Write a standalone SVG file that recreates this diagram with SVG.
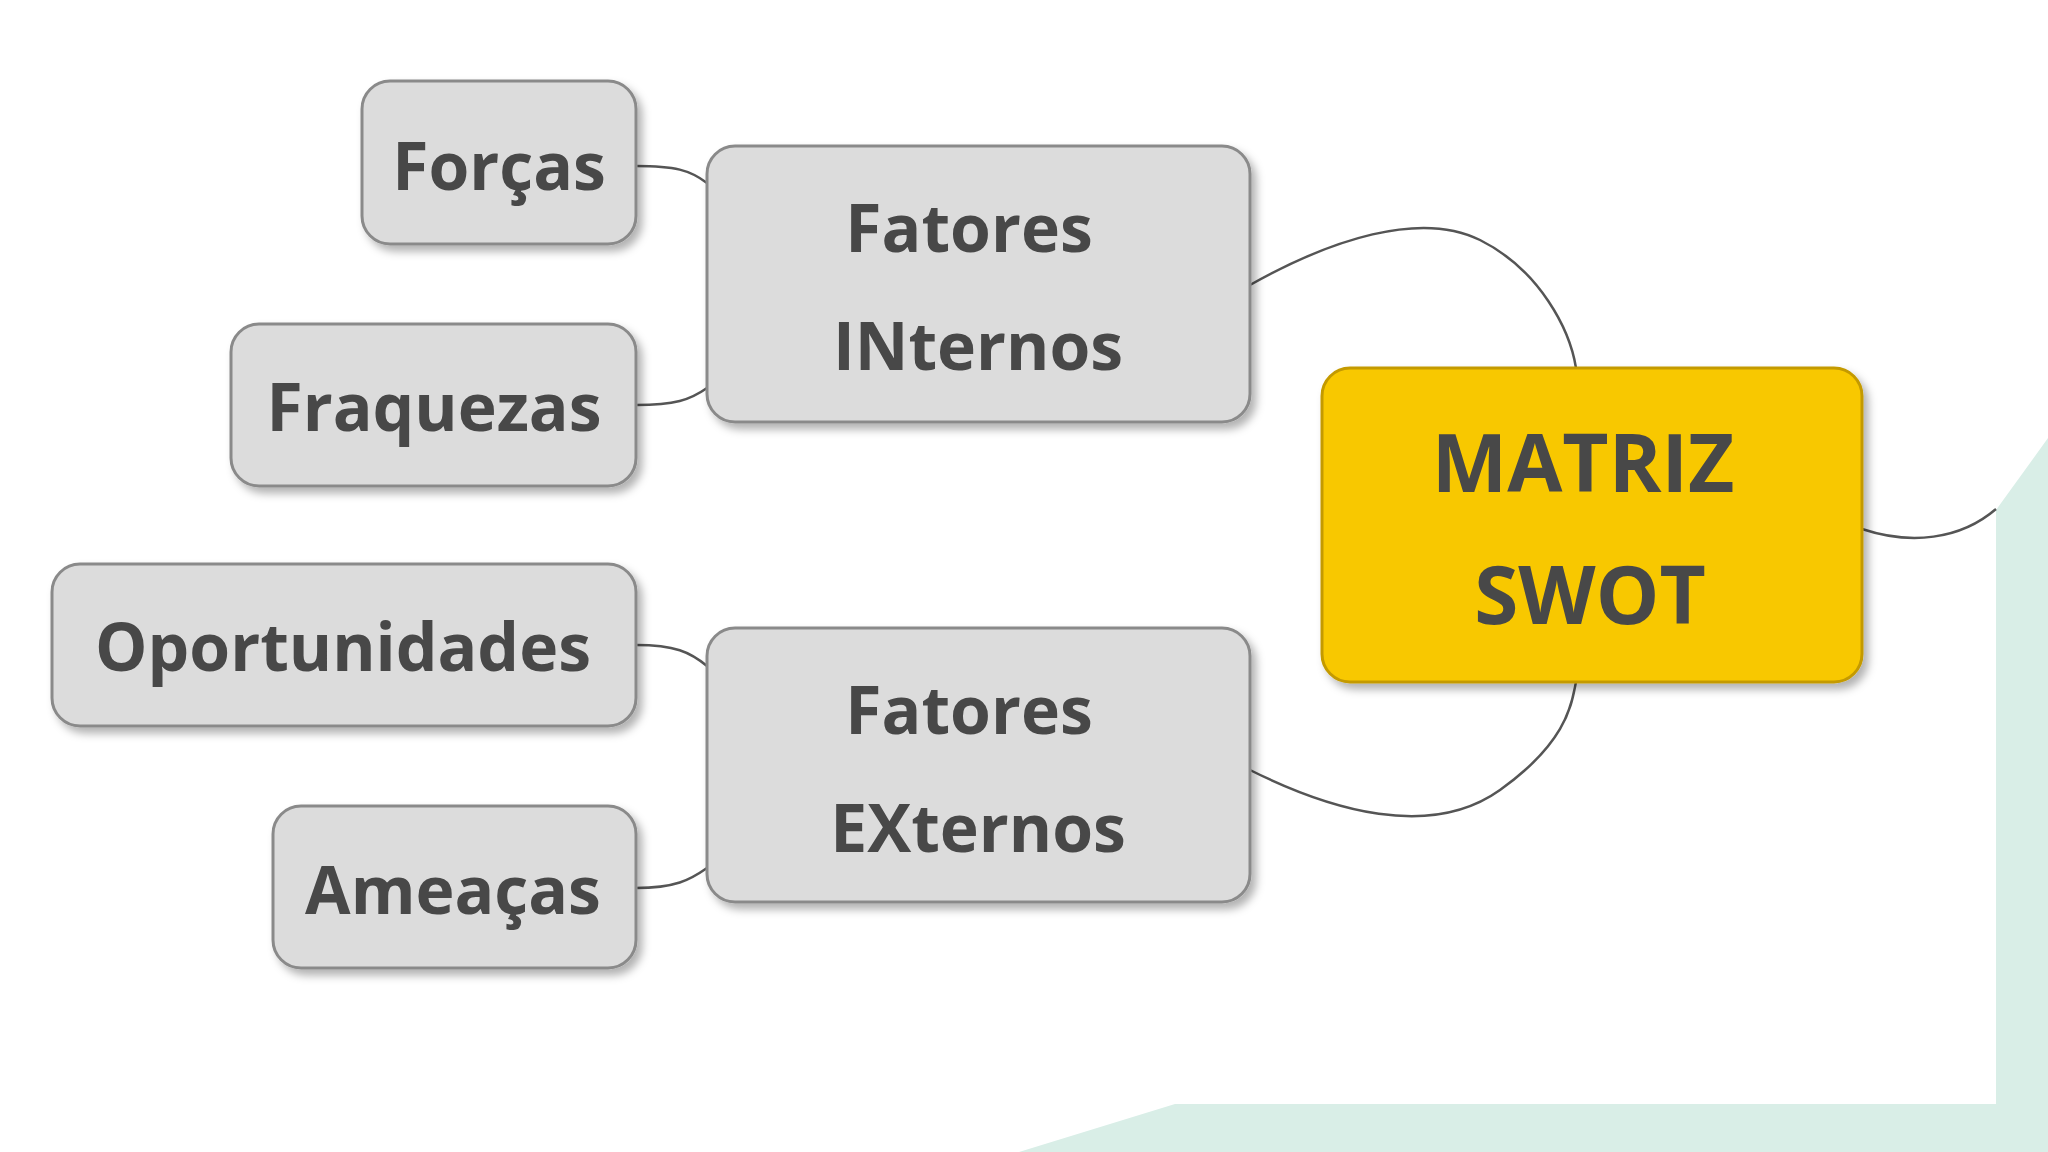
<svg xmlns="http://www.w3.org/2000/svg" width="2048" height="1152" viewBox="0 0 2048 1152">
<defs>
<filter id="sh" x="-10%" y="-10%" width="130%" height="130%"><feDropShadow dx="5" dy="6" stdDeviation="4" flood-color="#000" flood-opacity="0.3"/></filter>
<style>
.n{fill:#dcdcdc;stroke:#8a8a8a;stroke-width:3;filter:url(#sh)}
.y{fill:#f8c800;stroke:#c49a00;stroke-width:3;filter:url(#sh)}
.t{font-family:"Open Sans",sans-serif;font-weight:bold;font-size:66px;fill:#484848;text-anchor:middle}
.b{font-size:80px}
.c{fill:none;stroke:#555;stroke-width:2.5}
</style>
</defs>
<rect width="2048" height="1152" fill="#fff"/>
<polygon points="2048,438 1996,510 1996,1104 1175,1104 1019,1152 2048,1152" fill="#d9eee7"/>
<g id="connectors">
<path class="c" d="M1250,285 C1330,240 1420,210 1480,240 S1570,330 1576,368"/>
<path class="c" d="M1250,770 C1330,810 1430,840 1500,790 S1572,700 1576,682"/>
<path class="c" d="M1862,529 C1910,545 1960,540 1996,509"/>
<path class="c" d="M636,166 C675,166 690,170 707,183"/>
<path class="c" d="M636,405 C675,405 690,400 707,388"/>
<path class="c" d="M636,645 C675,645 690,652 707,666"/>
<path class="c" d="M636,888 C675,888 690,880 707,868"/>
</g>
<g id="forcas"><rect class="n" x="362" y="81" width="274" height="163" rx="28"/><text class="t" x="499" y="190">Forças</text></g>
<g id="fraquezas"><rect class="n" x="231" y="324" width="405" height="162" rx="28"/><text class="t" x="434" y="431">Fraquezas</text></g>
<g id="oportunidades"><rect class="n" x="52" y="564" width="584" height="162" rx="28"/><text class="t" x="343" y="671">Oportunidades</text></g>
<g id="ameacas"><rect class="n" x="273" y="806" width="363" height="162" rx="28"/><text class="t" x="453" y="914">Ameaças</text></g>
<g id="internos"><rect class="n" x="707" y="146" width="543" height="276" rx="28"/><text class="t" x="969" y="252">Fatores</text><text class="t" x="978" y="370">INternos</text></g>
<g id="externos"><rect class="n" x="707" y="628" width="543" height="274" rx="28"/><text class="t" x="969" y="734">Fatores</text><text class="t" x="978" y="852">EXternos</text></g>
<g id="matriz"><rect class="y" x="1322" y="368" width="540" height="314" rx="28"/><text class="t b" x="1583" y="492">MATRIZ</text><text class="t b" x="1590" y="624">SWOT</text></g>
</svg>
